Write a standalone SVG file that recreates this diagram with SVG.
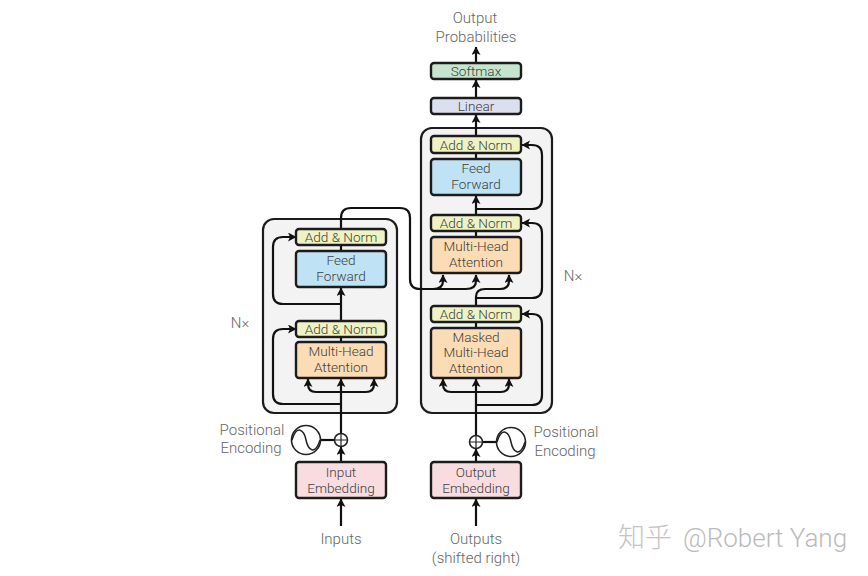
<svg xmlns="http://www.w3.org/2000/svg" width="868" height="576" viewBox="0 0 868 576">
<style>
text{font-family:"Roboto","Liberation Sans",Arial,sans-serif;font-weight:300;font-size:13.6px;text-anchor:middle;fill:#404040}
.lab{fill:#666;font-size:15px}
.b{stroke:#1c1c1c;stroke-width:2.4}
.an{fill:#eff3c3}.ff{fill:#bfe3f5}.mh{fill:#fbdcb4}.em{fill:#f9dcdf}
.gr{fill:#f3f3f3;stroke:#1c1c1c;stroke-width:2.2}
.c{fill:none;stroke:#111;stroke-width:2.2}
.o{fill:#fff;stroke:#222;stroke-width:1.600}
</style>
<defs><marker id="a" markerUnits="userSpaceOnUse" markerWidth="9" markerHeight="10" refX="8" refY="4.500" orient="auto"><path d="M0 0L8.500 4.500L0 9L2 4.500Z" fill="#111"/></marker></defs>
<rect width="868" height="576" fill="#fff"/>
<g id="encoder-stack"><rect class="gr" x="263" y="219" width="134" height="194" rx="11"/></g>
<g id="decoder-stack"><rect class="gr" x="421" y="128" width="131" height="285" rx="11"/></g>
<g id="connectors">
<path class="c" marker-end="url(#a)" d="M341 526V499"/>
<path class="c" marker-end="url(#a)" d="M341 462V447"/>
<path class="c" marker-end="url(#a)" d="M341 433V379"/>
<path class="c" d="M341 342V337"/>
<path class="c" marker-end="url(#a)" d="M341 321V288"/>
<path class="c" d="M341 251V245"/>
<path class="c" marker-end="url(#a)" d="M341 229V218Q341 208 351 208H400Q410 208 410 218V279Q410 289 420 289H466Q476 289 476 281V275"/>
<path class="c" marker-end="url(#a)" d="M433 289Q443 289 443 281V275"/>
<path class="c" marker-end="url(#a)" d="M341 404H283Q273 404 273 394V339Q273 329 283 329H296"/>
<path class="c" marker-end="url(#a)" d="M341 304H283Q273 304 273 294V247Q273 237 283 237H296"/>
<path class="c" d="M316 392H366"/>
<path class="c" marker-end="url(#a)" d="M316 392Q308 392 308 384V379"/>
<path class="c" marker-end="url(#a)" d="M366 392Q374 392 374 384V379"/>
<path class="c" d="M320 440H334"/>
<path class="c" marker-end="url(#a)" d="M476 526V499"/>
<path class="c" marker-end="url(#a)" d="M476 462V449"/>
<path class="c" marker-end="url(#a)" d="M476 435V379"/>
<path class="c" d="M476 328V322"/>
<path class="c" marker-end="url(#a)" d="M476 306V297Q476 289 485 289H500Q509 289 509 281V275"/>
<path class="c" marker-end="url(#a)" d="M476 298H532Q542 298 542 288V233Q542 223 532 223H522"/>
<path class="c" marker-end="url(#a)" d="M476 405H532Q542 405 542 395V324Q542 314 532 314H522"/>
<path class="c" d="M451 392H501"/>
<path class="c" marker-end="url(#a)" d="M451 392Q443 392 443 384V379"/>
<path class="c" marker-end="url(#a)" d="M501 392Q509 392 509 384V379"/>
<path class="c" d="M476 237V231"/>
<path class="c" marker-end="url(#a)" d="M476 215V196"/>
<path class="c" d="M476 159V153"/>
<path class="c" marker-end="url(#a)" d="M476 209H532Q542 209 542 199V155Q542 145 532 145H522"/>
<path class="c" marker-end="url(#a)" d="M476 136V115"/>
<path class="c" marker-end="url(#a)" d="M476 98V80"/>
<path class="c" marker-end="url(#a)" d="M476 63V47"/>
<path class="c" d="M497 442H483"/>
</g>
<g id="enc-addnorm2"><rect class="b an" x="296" y="229" width="90" height="16" rx="3"/><text x="341" y="242">Add &amp; Norm</text></g>
<g id="enc-ff"><rect class="b ff" x="296" y="251" width="90" height="36" rx="3"/><text x="341" y="265">Feed</text><text x="341" y="281">Forward</text></g>
<g id="enc-addnorm1"><rect class="b an" x="296" y="321" width="90" height="16" rx="3"/><text x="341" y="334">Add &amp; Norm</text></g>
<g id="enc-mha"><rect class="b mh" x="296" y="342" width="90" height="36" rx="3"/><text x="341" y="356">Multi-Head</text><text x="341" y="372">Attention</text></g>
<g id="input-embedding"><rect class="b em" x="296" y="462" width="90" height="36" rx="3"/><text x="341" y="477">Input</text><text x="341" y="493">Embedding</text></g>
<g id="enc-plus"><circle class="o" cx="341" cy="440" r="6.500"/><path d="M334.500 440H347.500M341 433.500V446.500" stroke="#222" stroke-width="1.200"/></g>
<g id="enc-pe"><circle class="o" cx="306" cy="440" r="14.500"/><path d="M292 440C297 424 304 430 306 440S315 456 320 440" fill="none" stroke="#222" stroke-width="1.500"/></g>
<g id="dec-addnorm3"><rect class="b an" x="431" y="136" width="90" height="17" rx="3"/><text x="476" y="150">Add &amp; Norm</text></g>
<g id="dec-ff"><rect class="b ff" x="431" y="159" width="90" height="36" rx="3"/><text x="476" y="173">Feed</text><text x="476" y="189">Forward</text></g>
<g id="dec-addnorm2"><rect class="b an" x="431" y="215" width="90" height="16" rx="3"/><text x="476" y="228">Add &amp; Norm</text></g>
<g id="dec-mha"><rect class="b mh" x="431" y="237" width="90" height="36" rx="3"/><text x="476" y="251">Multi-Head</text><text x="476" y="267">Attention</text></g>
<g id="dec-addnorm1"><rect class="b an" x="431" y="306" width="90" height="16" rx="3"/><text x="476" y="319">Add &amp; Norm</text></g>
<g id="dec-masked"><rect class="b mh" x="431" y="328" width="90" height="50" rx="3"/><text x="476" y="342">Masked</text><text x="476" y="357">Multi-Head</text><text x="476" y="373">Attention</text></g>
<g id="output-embedding"><rect class="b em" x="431" y="462" width="90" height="36" rx="3"/><text x="476" y="477">Output</text><text x="476" y="493">Embedding</text></g>
<g id="dec-plus"><circle class="o" cx="476" cy="442" r="6.500"/><path d="M469.500 442H482.500M476 435.500V448.500" stroke="#222" stroke-width="1.200"/></g>
<g id="dec-pe"><circle class="o" cx="511" cy="442" r="14.500"/><path d="M497 442C502 426 509 432 511 442S520 458 525 442" fill="none" stroke="#222" stroke-width="1.500"/></g>
<g id="linear"><rect class="b" fill="#dcdff0" x="431" y="98" width="90" height="16" rx="3"/><text x="476" y="111">Linear</text></g>
<g id="softmax"><rect class="b" fill="#c5e5cf" x="431" y="63" width="90" height="16" rx="3"/><text x="476" y="76">Softmax</text></g>
<g id="labels">
<text class="lab" x="475" y="23">Output</text><text class="lab" x="476" y="42">Probabilities</text>
<text class="lab" x="240" y="328">N×</text><text class="lab" x="573" y="281">N×</text>
<text class="lab" x="252" y="435">Positional</text><text class="lab" x="251" y="453">Encoding</text>
<text class="lab" x="566" y="437">Positional</text><text class="lab" x="565" y="456">Encoding</text>
<text class="lab" x="341" y="544">Inputs</text>
<text class="lab" x="476" y="544">Outputs</text><text class="lab" x="476" y="563">(shifted right)</text>
</g>
<g id="watermark"><text x="645" y="547" style="font-family:'Noto Sans CJK SC',sans-serif;font-size:27px;fill:#c4c4c4">知乎</text><text x="765" y="547" style="font-size:26px;fill:#bbb">@Robert Yang</text></g>
</svg>
